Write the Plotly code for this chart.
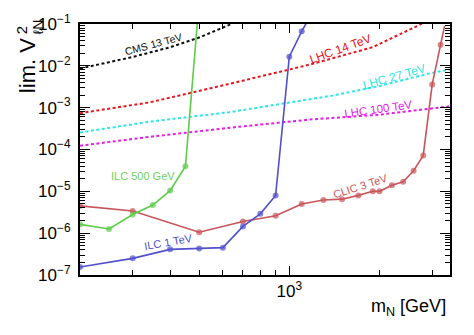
import numpy as np
import plotly.graph_objects as go

# ---------------- data ----------------
cms13_m = [200, 300, 400, 500, 630, 700]
cms13_v = [8.6e-3, 1.63e-2, 2.78e-2, 4.74e-2, 9.5e-2, 1.4e-1]

lhc14_m = [200, 340, 630, 1170, 1900, 2720, 3000]
lhc14_v = [7.4e-4, 1.33e-3, 3.7e-3, 1.07e-2, 2.8e-2, 9.5e-2, 1.5e-1]

lhc27_m = [200, 340, 630, 950, 1390, 2000, 2940, 3440]
lhc27_v = [2.55e-4, 4.6e-4, 7.8e-4, 1.26e-3, 1.94e-3, 3.3e-3, 6.6e-3, 8.2e-3]

lhc100_m = [200, 340, 680, 1170, 2000, 3340, 3440]
lhc100_v = [1.23e-4, 2.0e-4, 3.5e-4, 5.2e-4, 6.8e-4, 1.05e-3, 1.08e-3]

ilc500_m = [200, 250, 300, 350, 400, 450, 495]
ilc500_v = [1.62e-6, 1.26e-6, 2.8e-6, 4.7e-6, 1.04e-5, 4.0e-5, 1.5e-1]

ilc1_m = [200, 300, 400, 500, 600, 700, 800, 900, 1000, 1100, 1200]
ilc1_v = [1.55e-7, 2.5e-7, 4.1e-7, 4.3e-7, 4.5e-7, 1.45e-6, 2.9e-6, 8.0e-6,
          1.66e-2, 6.7e-2, 2.0e-1]

clic3_m = [200, 300, 500, 700, 900, 1100, 1300, 1500, 1700, 1900, 2000,
           2200, 2400, 2600, 2800, 3000, 3200, 3300]
clic3_v = [4.5e-6, 3.4e-6, 1.05e-6, 1.9e-6, 2.6e-6, 5.0e-6, 6.2e-6, 6.5e-6,
           8.0e-6, 1.0e-5, 1.0e-5, 1.4e-5, 1.7e-5, 3.1e-5, 7.2e-5, 3.6e-3,
           3.2e-2, 9.0e-2]

x_major = [1000]
x_major_text = ["10<sup>3</sup>"]
x_minor = [200, 300, 400, 500, 600, 700, 800, 900, 2000, 3000]
y_exps = [-7, -6, -5, -4, -3, -2, -1]

# ---------------- colours ----------------
C_CMS = "#111111"
C_L14 = "#e8161c"
C_L27 = "#2ee6e6"
C_L100 = "#e41ee4"
C_GREEN = "#5ccc4a"
C_BLUE = "#5050cc"
C_CLIC = "#c8555a"

FONT = "Liberation Sans, Arial, Helvetica, sans-serif"

fig = go.Figure()

def dotted(m, v, color):
    fig.add_trace(go.Scatter(x=m, y=v, mode="lines",
                             line=dict(color=color, width=2, dash="3px,2.5px"),
                             showlegend=False, hoverinfo="skip"))

def solid(m, v, color, nomarker_last=False):
    sizes = [6] * len(m)
    if nomarker_last:
        sizes[-1] = 0
    fig.add_trace(go.Scatter(x=m, y=v, mode="lines+markers",
                             line=dict(color=color, width=1.6),
                             marker=dict(color=color, size=sizes, symbol="circle",
                                         line=dict(width=0)),
                             showlegend=False, hoverinfo="skip"))

dotted(cms13_m, cms13_v, C_CMS)
dotted(lhc14_m, lhc14_v, C_L14)
dotted(lhc27_m, lhc27_v, C_L27)
dotted(lhc100_m, lhc100_v, C_L100)
solid(clic3_m, clic3_v, C_CLIC, nomarker_last=True)
solid(ilc500_m, ilc500_v, C_GREEN)
solid(ilc1_m, ilc1_v, C_BLUE)

# labels (data coordinates)
labels = [
    ("CMS 13 TeV", 351, 0.0334, -15, C_CMS, 10.5),
    ("LHC 14 TeV", 1481, 0.0257, -20, C_L14, 12),
    ("LHC 27 TeV", 2228, 5.4e-3, -16, C_L27, 12),
    ("LHC 100 TeV", 1985, 9.3e-4, -8, C_L100, 11.5),
    ("ILC 500 GeV", 325, 2.34e-5, 0, "#70d060", 11),
    ("CLIC 3 TeV", 1728, 1.37e-5, -18, C_CLIC, 11),
    ("ILC 1 TeV", 394, 6.2e-7, -10, C_BLUE, 11),
]
for txt, mx, vy, ang, col, fs in labels:
    fig.add_annotation(x=np.log10(mx), y=np.log10(vy), xref="x", yref="y",
                       text=txt, showarrow=False, textangle=ang,
                       font=dict(family=FONT, size=fs, color=col),
                       xanchor="center", yanchor="middle")

# y axis title: "lim. V" with stacked superscript 2 and subscript lN
def px2paper(px, py):
    return (px - 80) / 370.0, (275 - py) / 258.5

tx, ty = px2paper(27.5, 29)
fig.add_annotation(x=tx, y=ty, xref="paper", yref="paper",
                   text="lim. V", showarrow=False,
                   textangle=-90, xanchor="center", yanchor="top",
                   font=dict(family=FONT, size=22, color="black"))
sx, sy = px2paper(21, 23)
fig.add_annotation(x=sx, y=sy, xref="paper", yref="paper",
                   text="2", showarrow=False,
                   textangle=-90, xanchor="center", yanchor="middle",
                   font=dict(family=FONT, size=15, color="black"))
bx, by = px2paper(38, 20)
fig.add_annotation(x=bx, y=by, xref="paper", yref="paper",
                   text="ℓN", showarrow=False,
                   textangle=-90, xanchor="center", yanchor="middle",
                   font=dict(family=FONT, size=14, color="black"))

fig.add_annotation(x=0.995, y=-0.13, xref="paper", yref="paper",
                   text="m<sub>N</sub> [GeV]", showarrow=False,
                   xanchor="right", yanchor="middle",
                   font=dict(family=FONT, size=18, color="black"))

y_minor = [k * 10.0 ** e for e in y_exps[:-1] for k in range(2, 10)]

fig.update_xaxes(type="log", range=[np.log10(200), np.log10(3440)],
                 tickmode="array", tickvals=x_major, ticktext=x_major_text,
                 ticks="inside", ticklen=9, tickwidth=1.2, tickcolor="black",
                 minor=dict(tickmode="array", tickvals=x_minor, ticks="inside",
                            ticklen=5, tickwidth=1.2, tickcolor="black"),
                 showline=True, linecolor="black", linewidth=2, mirror="allticks",
                 showgrid=False, zeroline=False,
                 tickfont=dict(family=FONT, size=17, color="black"))
fig.update_yaxes(type="log", range=[-7, -1],
                 tickmode="array", tickvals=[10.0 ** e for e in y_exps],
                 ticktext=["10<sup>\u2212%d</sup>" % (-e) for e in y_exps],
                 ticks="inside", ticklen=10, tickwidth=1.2, tickcolor="black",
                 minor=dict(tickmode="array", tickvals=y_minor, ticks="inside",
                            ticklen=5, tickwidth=1.2, tickcolor="black"),
                 showline=True, linecolor="black", linewidth=2, mirror="allticks",
                 showgrid=False, zeroline=False, ticklabelstandoff=4,
                 tickfont=dict(family=FONT, size=17, color="black"))

fig.update_layout(width=474, height=335,
                  margin=dict(l=80, r=24, t=16, b=60),
                  paper_bgcolor="white", plot_bgcolor="white",
                  showlegend=False)

fig.write_html("out.html")
